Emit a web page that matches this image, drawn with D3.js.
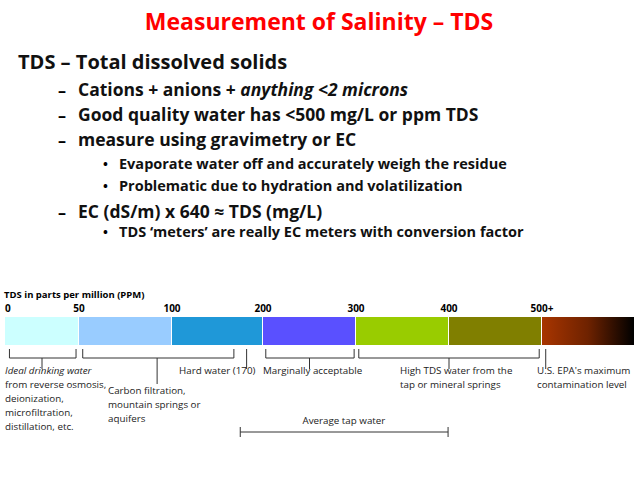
<!DOCTYPE html>
<html><head><meta charset="utf-8">
<script src="https://cdn.jsdelivr.net/npm/d3@7"></script>
<style>body{margin:0;background:#fff}svg{display:block}</style>
</head><body><div id="chart"></div>
<script>
// tick values and where they sit on the (non-linear) bar
const tickValues = [0, 50, 100, 200, 300, 400, 500];
const tickLabels = ["0", "50", "100", "200", "300", "400", "500+"];
const tickPixels = [5, 79, 172, 263, 356, 449, 542];
const segStarts = [0, 50, 100, 200, 300, 400];
const segEnds = [50, 100, 200, 300, 400, 500];
const segColors = ["#ccffff", "#99ccff", "#1f98d8", "#5a50ff", "#99cc00", "#807f00"];
// brackets: [from, to, stem]
const brackets = [[3, 48, 25], [52, 168, 92], [203, 298, 250], [303, 497, 400]];
const markers = [182, 504];
const bulletLines = [
  {lvl: 0, parts: [["TDS – Total dissolved solids", ""]]},
  {lvl: 1, parts: [["Cations + anions + ", ""], ["anything <2 microns", "italic"]]},
  {lvl: 1, parts: [["Good quality water has <500 mg/L or ppm TDS", ""]]},
  {lvl: 1, parts: [["measure using gravimetry or EC", ""]]},
  {lvl: 2, parts: [["Evaporate water off and accurately weigh the residue", ""]]},
  {lvl: 2, parts: [["Problematic due to hydration and volatilization", ""]]},
  {lvl: 1, parts: [["EC (dS/m) x 640 ≈ TDS (mg/L)", ""]]},
  {lvl: 2, parts: [["TDS ‘meters’ are really EC meters with conversion factor", ""]]}
];
const bulletY = [69, 96, 121, 146, 169, 191, 218, 237];

const width = 638, height = 478;
const svg = d3.select("#chart").append("svg").attr("width", width).attr("height", height);
const font = "Open Sans, Liberation Sans, sans-serif";

svg.append("text").attr("x", 319).attr("y", 30).attr("text-anchor", "middle")
  .attr("fill", "#ff0000").style("font", `bold 23px ${font}`).text("Measurement of Salinity – TDS");

const lvlSize = [20, 17.5, 14.5];
bulletLines.forEach((b, i) => {
  const y = bulletY[i];
  if (b.lvl === 1) svg.append("text").attr("x", 58).attr("y", y).style("font", `bold 16px ${font}`).text("–");
  if (b.lvl === 2) svg.append("text").attr("x", 103).attr("y", y).style("font", `bold 13px ${font}`).text("•");
  const x = b.lvl === 0 ? 18 : b.lvl === 1 ? 78 : 119;
  const t = svg.append("text").attr("x", x).attr("y", y)
    .style("font", `bold ${lvlSize[b.lvl]}px ${font}`).attr("fill", "#111");
  b.parts.forEach(p => t.append("tspan").attr("font-style", p[1] || null).text(p[0]));
});

const x = d3.scaleLinear().domain(tickValues).range(tickPixels);
const barTop = 317, barH = 28;
const g = svg.append("g").style("font-family", font);

g.append("text").attr("x", 4).attr("y", 298).style("font-size", "9.5px").style("font-weight", "bold")
  .text("TDS in parts per million (PPM)");
g.selectAll(".tick").data(tickValues).join("text")
  .attr("x", d => x(d)).attr("y", 312)
  .attr("text-anchor", (d, i) => i === 0 ? "start" : "middle")
  .style("font-size", "10px").style("font-weight", "bold")
  .text((d, i) => tickLabels[i]);

g.selectAll(".seg").data(segStarts).join("rect")
  .attr("x", d => x(d)).attr("y", barTop)
  .attr("width", (d, i) => x(segEnds[i]) - x(d) - 1).attr("height", barH)
  .attr("fill", (d, i) => segColors[i]);
const grad = svg.append("defs").append("linearGradient").attr("id", "g500");
grad.append("stop").attr("offset", 0).attr("stop-color", "#a83500");
grad.append("stop").attr("offset", 0.5).attr("stop-color", "#6e2200");
grad.append("stop").attr("offset", 1).attr("stop-color", "#000");
g.append("rect").attr("x", x(500)).attr("y", barTop).attr("width", 634 - x(500)).attr("height", barH)
  .attr("fill", "url(#g500)");

const ln = g.append("g").attr("stroke", "#333").attr("stroke-width", 1).attr("fill", "none");
brackets.forEach(([a, b, s], i) => {
  const stemEnd = i === 1 ? 384 : 369;
  ln.append("path").attr("d", `M${x(a)},349V358H${x(b)}V349M${x(s)},358V${stemEnd}`);
});
markers.forEach(m => ln.append("line").attr("x1", x(m)).attr("x2", x(m)).attr("y1", 349).attr("y2", 369));
ln.append("path").attr("d", `M${x(175)},427V437M${x(175)},432H${x(399)}M${x(399)},427V437`);

function label(xp, y, lines, anchor, italicFirst) {
  const t = g.append("text").attr("x", xp).attr("y", y).attr("text-anchor", anchor || "start")
    .style("font-size", "9.8px").attr("fill", "#222");
  lines.forEach((l, i) => t.append("tspan").attr("x", xp).attr("dy", i ? 14 : 0)
    .attr("font-style", i === 0 && italicFirst ? "italic" : null).text(l));
}
label(5, 374, ["Ideal drinking water", "from reverse osmosis,", "deionization,", "microfiltration,", "distillation, etc."], "start", true);
label(108, 394, ["Carbon filtration,", "mountain springs or", "aquifers"]);
label(179, 374, ["Hard water (170)"]);
label(263, 374, ["Marginally acceptable"]);
label(400, 374, ["High TDS water from the", "tap or mineral springs"]);
label(537, 374, ["U.S. EPA's maximum", "contamination level"]);
label(x(287), 424, ["Average tap water"], "middle");
</script></body></html>
